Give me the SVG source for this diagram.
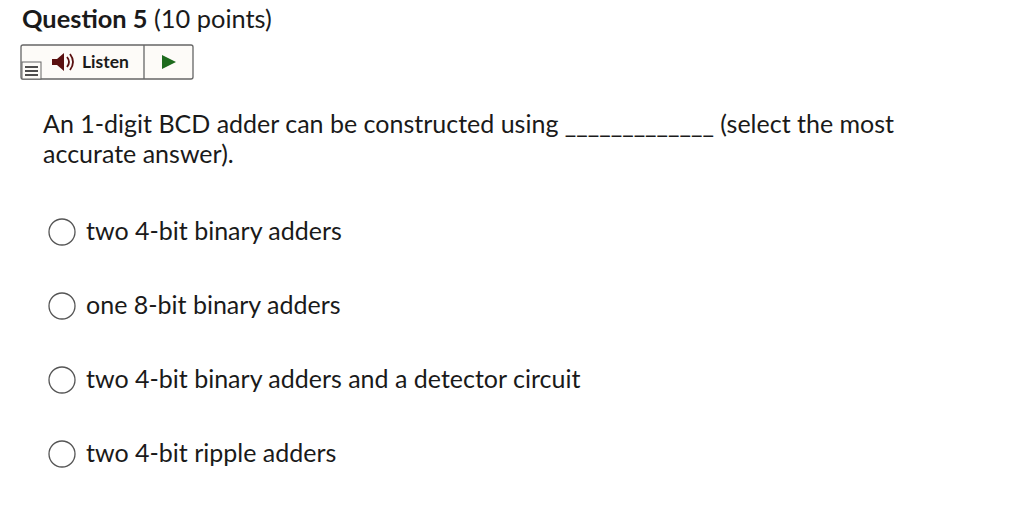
<svg xmlns="http://www.w3.org/2000/svg" width="1024" height="518" viewBox="0 0 1024 518">
<style>
text{font-family:Lato,"Open Sans",sans-serif;fill:#1a1a1a}
.b{font-size:25px}
.r{fill:#fff;stroke:#555;stroke-width:1.3}
</style>
<rect width="1024" height="518" fill="#fff"/>
<text x="22" y="28" font-size="25.4"><tspan font-weight="bold">Question 5</tspan> (10 points)</text>
<g id="listen">
<rect x="21" y="45" width="172" height="34" rx="2" fill="#fdfbf8" stroke="#666" stroke-width="1.3"/>
<line x1="144" y1="45" x2="144" y2="79" stroke="#666" stroke-width="1.3"/>
<rect x="22" y="62" width="19" height="17" fill="#fdfbf8" stroke="#666"/>
<g stroke="#222" stroke-width="1.6"><line x1="25" y1="67" x2="38" y2="67"/><line x1="25" y1="71" x2="38" y2="71"/><line x1="25" y1="75" x2="38" y2="75"/></g>
<polygon points="52,59 57,59 64,53 64,71 57,65 52,65" fill="#5a1010"/>
<path d="M67,57 Q71,62 67,67 M70,54 Q76,62 70,70" fill="none" stroke="#5a1010" stroke-width="1.8"/>
<text x="82" y="68" font-size="17.5" font-weight="bold">Listen</text>
<polygon points="162,55 176,62 162,69" fill="#1e6b1e"/>
</g>
<text class="b" x="43" y="133">An 1-digit BCD adder can be constructed using _____________ (select the most</text>
<text class="b" x="43" y="163">accurate answer).</text>
<g id="o1"><circle class="r" cx="62" cy="232" r="13"/><text class="b" x="86" y="240">two 4-bit binary adders</text></g>
<g id="o2"><circle class="r" cx="62" cy="306" r="13"/><text class="b" x="86" y="314">one 8-bit binary adders</text></g>
<g id="o3"><circle class="r" cx="62" cy="380" r="13"/><text class="b" x="86" y="388">two 4-bit binary adders and a detector circuit</text></g>
<g id="o4"><circle class="r" cx="62" cy="454" r="13"/><text class="b" x="86" y="462">two 4-bit ripple adders</text></g>
</svg>
